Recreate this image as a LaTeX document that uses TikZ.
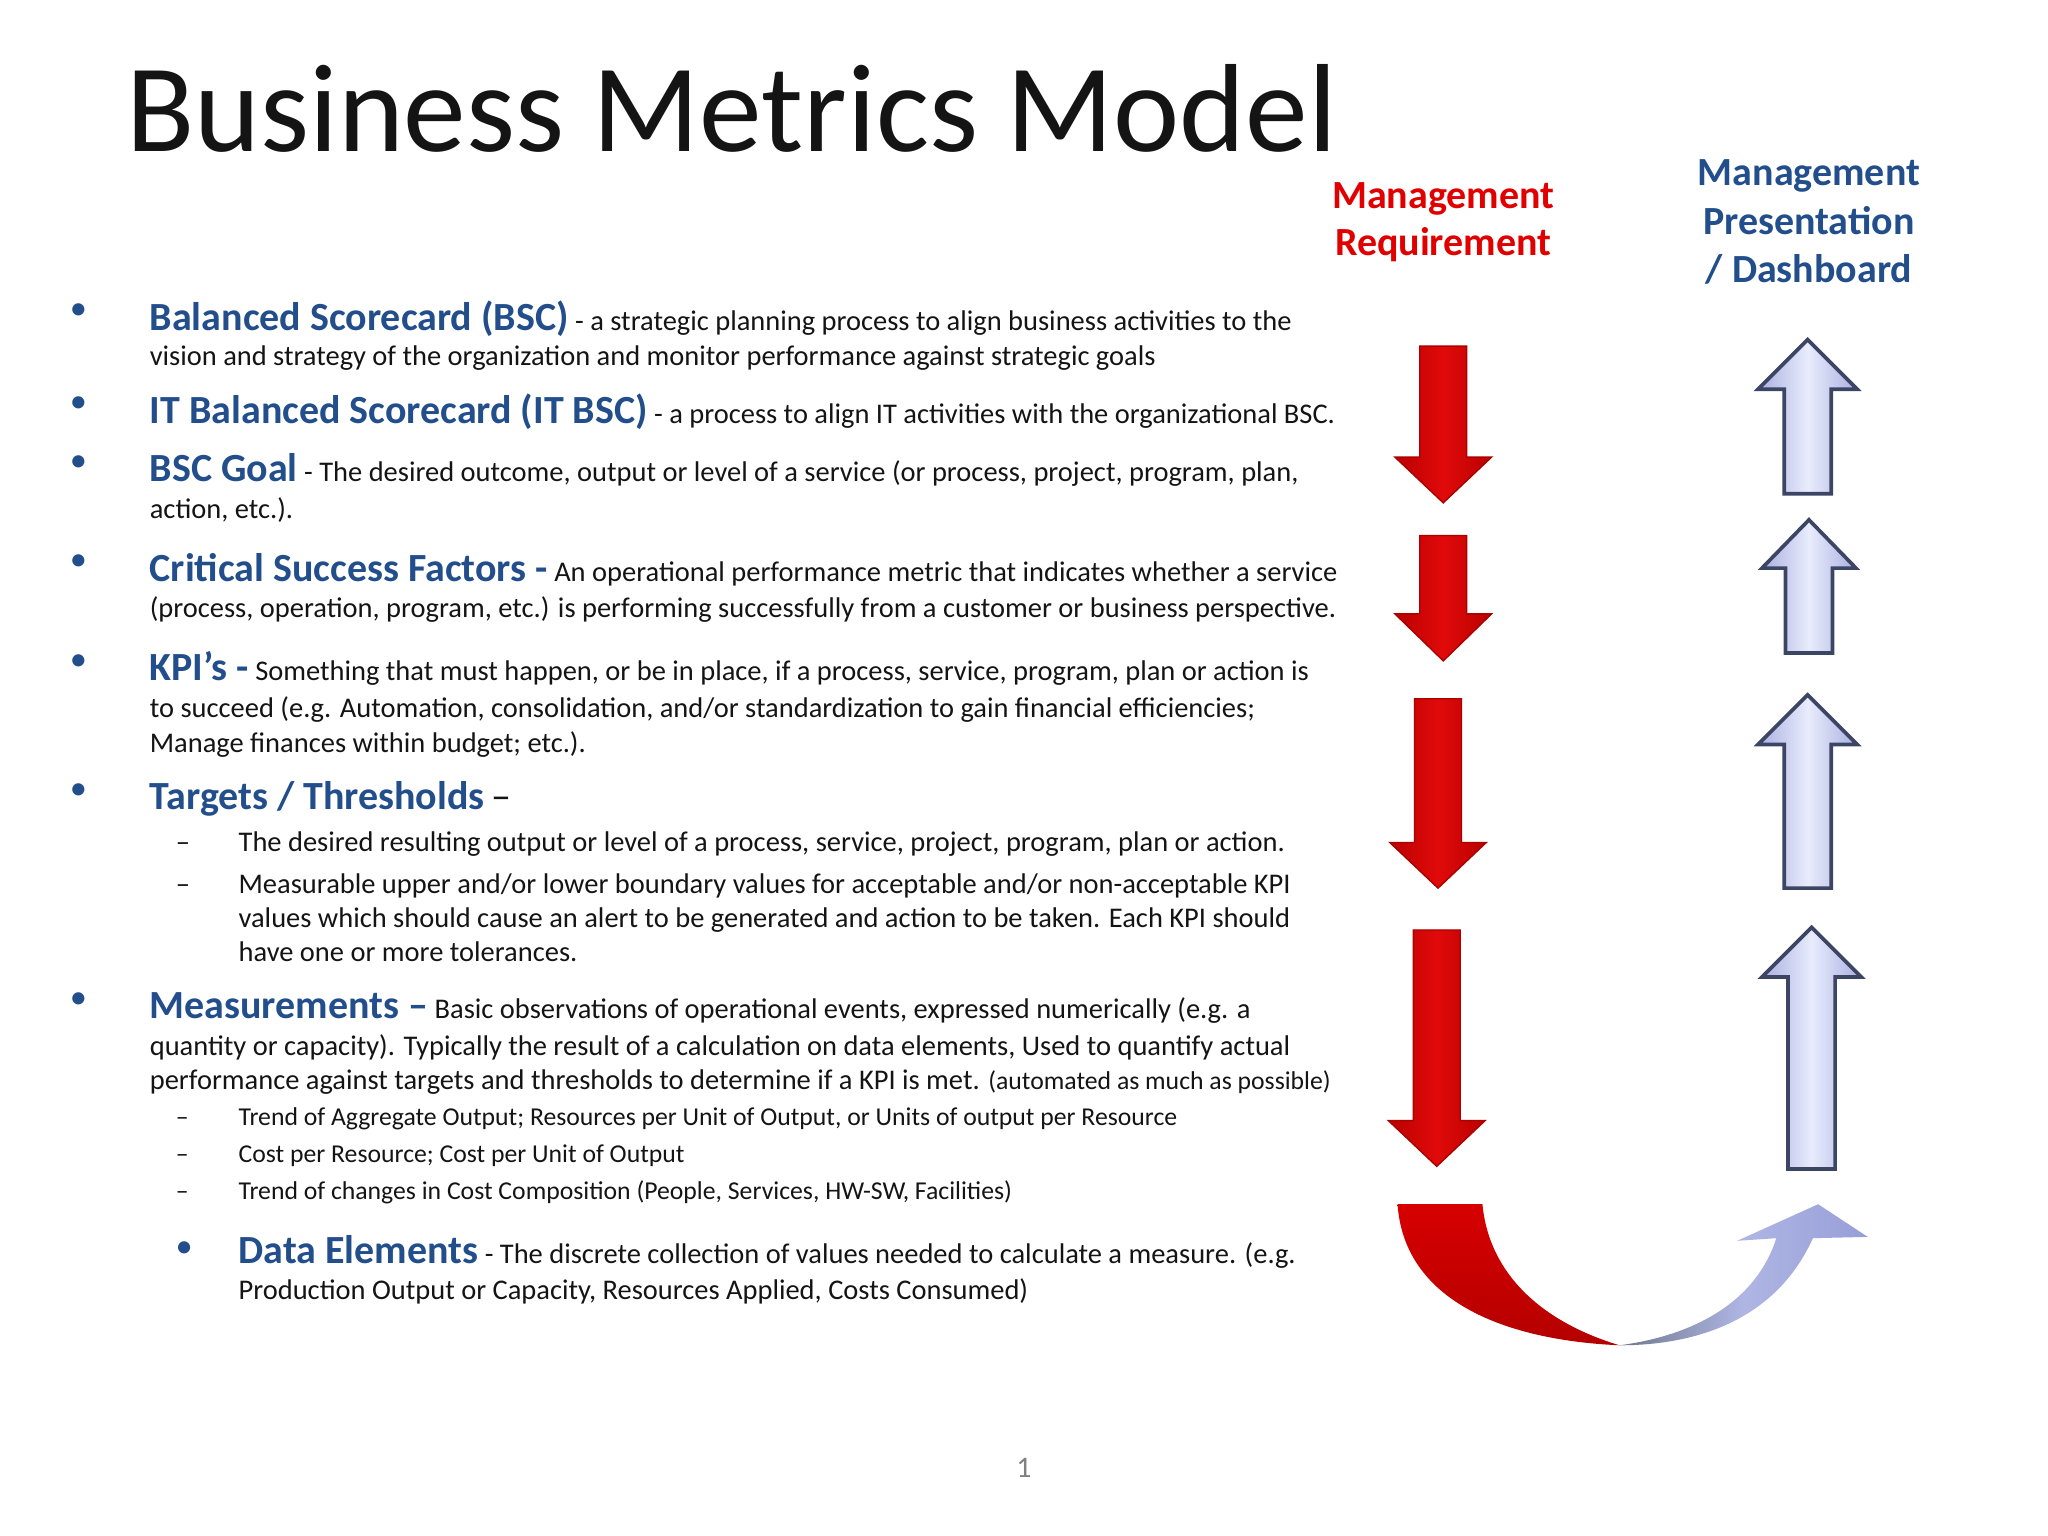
\documentclass[tikz,border=0pt]{standalone}
\usepackage{fontspec}
\setmainfont{Carlito}
\definecolor{hblue}{RGB}{35,78,140}
\definecolor{hred}{RGB}{225,0,0}
\definecolor{bodyc}{RGB}{20,20,20}
\newcommand\fsz[1]{\fontsize{#1}{#1}\selectfont}
\tikzset{
  txt/.style={anchor=base west,inner sep=0pt,text=bodyc},
  bul/.style={anchor=base,inner sep=0pt,text=hblue,font=\fsz{7.5pt}},
  redarr/.style={left color={rgb,255:red,185;green,0;blue,0},right color={rgb,255:red,185;green,0;blue,0},middle color={rgb,255:red,225;green,10;blue,10},draw={rgb,255:red,170;green,0;blue,0},line width=0.3pt},
  bluearr/.style={left color={rgb,255:red,170;green,175;blue,225},right color={rgb,255:red,170;green,175;blue,225},middle color={rgb,255:red,232;green,236;blue,252},draw={rgb,255:red,60;green,70;blue,100},line width=0.8pt},
}
\newcommand\hdtxt[1]{{\fsz{8.7pt}\bfseries\color{hblue}#1}}
\begin{document}
\begin{tikzpicture}[x=0.01cm,y=-0.01cm]
\useasboundingbox (0,0) rectangle (1568,1176);
\node[txt,font=\fsz{27.3pt}] (title) at (96,116) {Business Metrics Model};
\node[align=center,font=\fontsize{8.7pt}{10.3pt}\selectfont\bfseries,text=hred,inner sep=0pt] (mreq) at (1105,170) {Management\\Requirement};
\node[align=center,font=\fontsize{8.7pt}{10.5pt}\selectfont\bfseries,text=hblue,inner sep=0pt] (mpres) at (1385,170) {Management\\Presentation\\/ Dashboard};
% bullets
\foreach \yy in {245,316,361,437,513,612,772} {\node[bul] at (60,\yy) {\textbullet};}
\node[bul] at (141,963) {\textbullet};
\begin{scope}[font=\fsz{6.2pt}]
\node[txt] (l1) at (114,253) {\hdtxt{Balanced Scorecard (BSC)} - a strategic planning process to align business activities to the};
\node[txt] (l2) at (114,280) {vision and strategy of the organization and monitor performance against strategic goals};
\node[txt] (l3) at (114,324) {\hdtxt{IT Balanced Scorecard (IT BSC)} - a process to align IT activities with the organizational BSC.};
\node[txt] (l4) at (114,369) {\hdtxt{BSC Goal} - The desired outcome, output or level of a service (or process, project, program, plan,};
\node[txt] (l5) at (114,397) {action, etc.).};
\node[txt] (l6) at (114,445) {\hdtxt{Critical Success Factors -} An operational performance metric that indicates whether a service};
\node[txt] (l7) at (114,473) {(process, operation, program, etc.) is performing successfully from a customer or business perspective.};
\node[txt] (l8) at (114,521) {\hdtxt{KPI’s -} Something that must happen, or be in place, if a process, service, program, plan or action is};
\node[txt] (l9) at (114,549) {to succeed (e.g. Automation, consolidation, and/or standardization to gain financial efficiencies;};
\node[txt] (l10) at (114,576) {Manage finances within budget; etc.).};
\node[txt] (l11) at (114,620) {\hdtxt{Targets / Thresholds} {\fsz{8.7pt}–}};
\node[txt] (d1) at (134,652) {–};
\node[txt] (l12) at (182,652) {The desired resulting output or level of a process, service, project, program, plan or action.};
\node[txt] (d2) at (134,684) {–};
\node[txt] (l13) at (182,684) {Measurable upper and/or lower boundary values for acceptable and/or non-acceptable KPI};
\node[txt] (l14) at (182,710) {values which should cause an alert to be generated and action to be taken. Each KPI should};
\node[txt] (l15) at (182,736) {have one or more tolerances.};
\node[txt] (l16) at (114,780) {\hdtxt{Measurements –} Basic observations of operational events, expressed numerically (e.g. a};
\node[txt] (l17) at (114,808) {quantity or capacity). Typically the result of a calculation on data elements, Used to quantify actual};
\node[txt] (l18) at (114,834) {performance against targets and thresholds to determine if a KPI is met. {\fsz{5.6pt}(automated as much as possible)}};
\node[txt] (l23) at (182,967) {\hdtxt{Data Elements} - The discrete collection of values needed to calculate a measure. (e.g.};
\node[txt] (l24) at (182,995) {Production Output or Capacity, Resources Applied, Costs Consumed)};
\end{scope}
\begin{scope}[font=\fsz{5.6pt}]
\node[txt] (d3) at (134,862) {–};
\node[txt] (l19) at (182,862) {Trend of Aggregate Output; Resources per Unit of Output, or Units of output per Resource};
\node[txt] (d4) at (134,890) {–};
\node[txt] (l20) at (182,890) {Cost per Resource; Cost per Unit of Output};
\node[txt] (d5) at (134,918) {–};
\node[txt] (l21) at (182,918) {Trend of changes in Cost Composition (People, Services, HW-SW, Facilities)};
\end{scope}
\node[inner sep=0pt,font=\fsz{6.5pt},text=gray] (pg) at (784,1124) {1};
% red arrows
\path[redarr] (1087,265)--(1123,265)--(1123,350)--(1142,350)--(1105,385)--(1068,350)--(1087,350)--cycle;
\path[redarr] (1087,410)--(1123,410)--(1123,470)--(1142,470)--(1105,506)--(1068,470)--(1087,470)--cycle;
\path[redarr] (1083,535)--(1119,535)--(1119,645)--(1138,645)--(1101,680)--(1064,645)--(1083,645)--cycle;
\path[redarr] (1082,712)--(1118,712)--(1118,858)--(1137,858)--(1100,893)--(1063,858)--(1082,858)--cycle;
% blue arrows
\path[bluearr] (1366,378)--(1402,378)--(1402,298)--(1422,298)--(1384,260)--(1346,298)--(1366,298)--cycle;
\path[bluearr] (1367,500)--(1403,500)--(1403,435)--(1421,435)--(1385,398)--(1349,435)--(1367,435)--cycle;
\path[bluearr] (1366,680)--(1402,680)--(1402,570)--(1422,570)--(1384,532)--(1346,570)--(1366,570)--cycle;
\path[bluearr] (1369,895)--(1405,895)--(1405,748)--(1425,748)--(1387,710)--(1349,748)--(1369,748)--cycle;
% U-turn
\path[top color={rgb,255:red,215;green,0;blue,0},bottom color={rgb,255:red,180;green,0;blue,0}] (1070,922)--(1135,922) .. controls (1140,975) and (1180,1012) .. (1240,1030) .. controls (1150,1026) and (1075,995) .. (1070,922)--cycle;
\path[left color={rgb,255:red,110;green,120;blue,140},right color={rgb,255:red,150;green,158;blue,215},middle color={rgb,255:red,175;green,182;blue,228}] (1240,1030) .. controls (1300,1022) and (1345,995) .. (1360,948)--(1330,950)--(1392,922)--(1430,947)--(1388,948) .. controls (1360,1010) and (1300,1030) .. (1240,1030)--cycle;
\end{tikzpicture}
\end{document}
